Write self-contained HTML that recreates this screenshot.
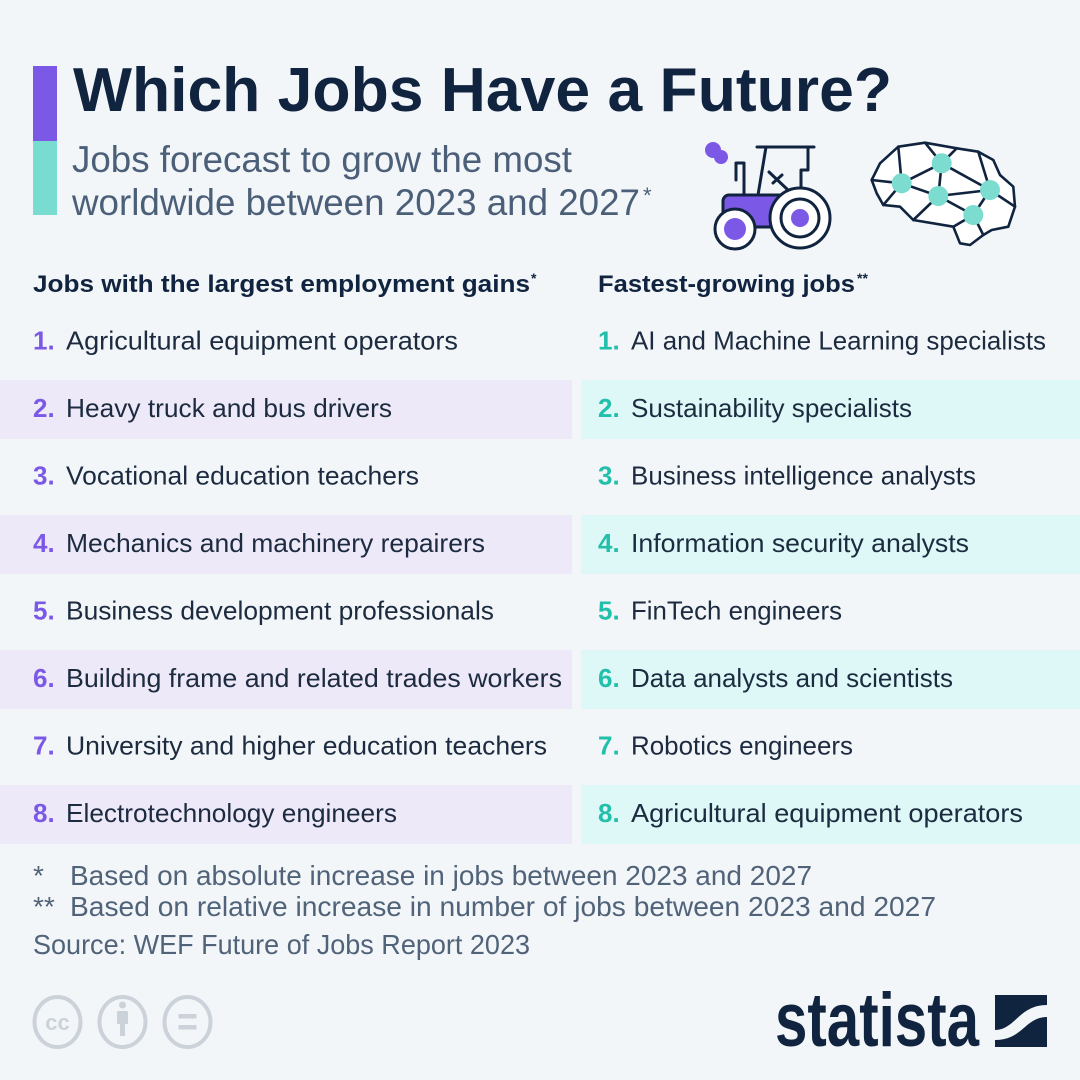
<!DOCTYPE html>
<html>
<head>
<meta charset="utf-8">
<style>
  html, body { margin: 0; padding: 0; background: #f3f6f9; }
  svg { display: block; }
  text { font-family: "Liberation Sans", "DejaVu Sans", sans-serif; }
</style>
</head>
<body>
<svg width="1080" height="1080" viewBox="0 0 1080 1080" xmlns="http://www.w3.org/2000/svg">
  <rect x="0" y="0" width="1080" height="1080" fill="#f3f6f9"/>

  <!-- accent bar -->
  <rect x="33" y="66" width="24" height="75" fill="#7b59e6"/>
  <rect x="33" y="141" width="24" height="74" fill="#79dcd1"/>

  <!-- title -->
  <text x="73" y="111" font-size="62" font-weight="bold" fill="#10233f" textLength="819" lengthAdjust="spacingAndGlyphs">Which Jobs Have a Future?</text>

  <!-- subtitle -->
  <text x="72" y="172" font-size="37" fill="#4b5f78" textLength="500" lengthAdjust="spacingAndGlyphs">Jobs forecast to grow the most</text>
  <text x="72" y="215" font-size="37" fill="#4b5f78" textLength="568" lengthAdjust="spacingAndGlyphs">worldwide between 2023 and 2027</text>
  <text x="643" y="203" font-size="22" fill="#4b5f78">*</text>

  <!-- tractor icon -->
  <g stroke="#10233f" stroke-width="3" stroke-linejoin="round" stroke-linecap="round" fill="none">
    <circle cx="713" cy="150" r="8" fill="#7b59e6" stroke="none"/>
    <circle cx="721" cy="157" r="7" fill="#7b59e6" stroke="none"/>
    <polyline points="736,180 736,163 744,163 744,196"/>
    <line x1="757" y1="147" x2="814" y2="147"/>
    <line x1="766" y1="147" x2="758" y2="195"/>
    <polyline points="808,147 808,170 801,170 801,192"/>
    <line x1="769" y1="172" x2="788" y2="190"/>
    <line x1="773" y1="183" x2="782" y2="175"/>
    <rect x="723" y="195" width="62" height="32" rx="6" fill="#7b59e6"/>
    <circle cx="735" cy="229" r="20" fill="#ffffff"/>
    <circle cx="735" cy="229" r="11" fill="#7b59e6" stroke="none"/>
    <circle cx="800" cy="218" r="30" fill="#ffffff"/>
    <circle cx="800" cy="218" r="19" fill="none"/>
    <circle cx="800" cy="218" r="9" fill="#7b59e6" stroke="none"/>
  </g>

  <!-- brain icon -->
  <g stroke="#10233f" stroke-width="2.6" stroke-linejoin="round" stroke-linecap="round">
    <polygon fill="#ffffff" points="871.7,180 880,163.3 898.3,146.7 925,142.7 956.7,148.3 978.3,151.7 993.3,160 1000,175 1013.3,186.7 1015,206.7 1008.3,226.7 991.7,230 983.3,235 970,245 960,243.3 953.3,226.7 913.3,220 900,206.7 883.3,205 876.7,193.3"/>
    <g fill="none">
      <line x1="901.7" y1="183.3" x2="941.7" y2="163.3"/>
      <line x1="901.7" y1="183.3" x2="938.3" y2="196"/>
      <line x1="941.7" y1="163.3" x2="938.3" y2="196"/>
      <line x1="938.3" y1="196" x2="990" y2="190"/>
      <line x1="941.7" y1="163.3" x2="990" y2="190"/>
      <line x1="938.3" y1="196" x2="973.3" y2="215"/>
      <line x1="990" y1="190" x2="973.3" y2="215"/>
      <line x1="901.7" y1="183.3" x2="871.7" y2="180"/>
      <line x1="901.7" y1="183.3" x2="898.3" y2="146.7"/>
      <line x1="941.7" y1="163.3" x2="925" y2="142.7"/>
      <line x1="941.7" y1="163.3" x2="956.7" y2="148.3"/>
      <line x1="990" y1="190" x2="978.3" y2="151.7"/>
      <line x1="990" y1="190" x2="1015" y2="206.7"/>
      <line x1="973.3" y1="215" x2="983.3" y2="235"/>
      <line x1="973.3" y1="215" x2="953.3" y2="226.7"/>
      <line x1="938.3" y1="196" x2="913.3" y2="220"/>
      <line x1="901.7" y1="183.3" x2="883.3" y2="205"/>
    </g>
    <g fill="#7ddcd0" stroke="none">
      <circle cx="941.7" cy="163.3" r="10"/>
      <circle cx="901.7" cy="183.3" r="10"/>
      <circle cx="938.3" cy="196" r="10"/>
      <circle cx="990" cy="190" r="10"/>
      <circle cx="973.3" cy="215" r="10"/>
    </g>
  </g>

  <!-- column headers -->
  <text x="33" y="292" font-size="24" font-weight="bold" fill="#10233f" textLength="497" lengthAdjust="spacingAndGlyphs">Jobs with the largest employment gains</text>
  <text x="531" y="283" font-size="14" font-weight="bold" fill="#10233f">*</text>
  <text x="598" y="292" font-size="24" font-weight="bold" fill="#10233f" textLength="257" lengthAdjust="spacingAndGlyphs">Fastest-growing jobs</text>
  <text x="857" y="283" font-size="14" font-weight="bold" fill="#10233f">**</text>

  <!-- bands -->
  <g fill="#eee9f9">
    <rect x="0" y="380" width="572" height="59"/>
    <rect x="0" y="515" width="572" height="59"/>
    <rect x="0" y="650" width="572" height="59"/>
    <rect x="0" y="785" width="572" height="59"/>
  </g>
  <g fill="#ddf8f7">
    <rect x="581" y="380" width="499" height="59"/>
    <rect x="581" y="515" width="499" height="59"/>
    <rect x="581" y="650" width="499" height="59"/>
    <rect x="581" y="785" width="499" height="59"/>
  </g>

  <!-- left list -->
  <g font-size="26" font-weight="bold" fill="#7b59e6">
    <text x="33" y="349.5">1.</text>
    <text x="33" y="417">2.</text>
    <text x="33" y="484.5">3.</text>
    <text x="33" y="552">4.</text>
    <text x="33" y="619.5">5.</text>
    <text x="33" y="687">6.</text>
    <text x="33" y="754.5">7.</text>
    <text x="33" y="822">8.</text>
  </g>
  <g font-size="26" fill="#1c2b3f">
    <text x="66" y="349.5" textLength="392" lengthAdjust="spacingAndGlyphs">Agricultural equipment operators</text>
    <text x="66" y="417" textLength="326" lengthAdjust="spacingAndGlyphs">Heavy truck and bus drivers</text>
    <text x="66" y="484.5" textLength="353" lengthAdjust="spacingAndGlyphs">Vocational education teachers</text>
    <text x="66" y="552" textLength="419" lengthAdjust="spacingAndGlyphs">Mechanics and machinery repairers</text>
    <text x="66" y="619.5" textLength="428" lengthAdjust="spacingAndGlyphs">Business development professionals</text>
    <text x="66" y="687" textLength="496" lengthAdjust="spacingAndGlyphs">Building frame and related trades workers</text>
    <text x="66" y="754.5" textLength="481" lengthAdjust="spacingAndGlyphs">University and higher education teachers</text>
    <text x="66" y="822" textLength="331" lengthAdjust="spacingAndGlyphs">Electrotechnology engineers</text>
  </g>

  <!-- right list -->
  <g font-size="26" font-weight="bold" fill="#22bfab">
    <text x="598" y="349.5">1.</text>
    <text x="598" y="417">2.</text>
    <text x="598" y="484.5">3.</text>
    <text x="598" y="552">4.</text>
    <text x="598" y="619.5">5.</text>
    <text x="598" y="687">6.</text>
    <text x="598" y="754.5">7.</text>
    <text x="598" y="822">8.</text>
  </g>
  <g font-size="26" fill="#1c2b3f">
    <text x="631" y="349.5" textLength="415" lengthAdjust="spacingAndGlyphs">AI and Machine Learning specialists</text>
    <text x="631" y="417" textLength="281" lengthAdjust="spacingAndGlyphs">Sustainability specialists</text>
    <text x="631" y="484.5" textLength="345" lengthAdjust="spacingAndGlyphs">Business intelligence analysts</text>
    <text x="631" y="552" textLength="338" lengthAdjust="spacingAndGlyphs">Information security analysts</text>
    <text x="631" y="619.5" textLength="211" lengthAdjust="spacingAndGlyphs">FinTech engineers</text>
    <text x="631" y="687" textLength="322" lengthAdjust="spacingAndGlyphs">Data analysts and scientists</text>
    <text x="631" y="754.5" textLength="222" lengthAdjust="spacingAndGlyphs">Robotics engineers</text>
    <text x="631" y="822" textLength="392" lengthAdjust="spacingAndGlyphs">Agricultural equipment operators</text>
  </g>

  <!-- footnotes -->
  <g font-size="28" fill="#506379">
    <text x="33" y="885">*</text>
    <text x="70" y="885" textLength="742" lengthAdjust="spacingAndGlyphs">Based on absolute increase in jobs between 2023 and 2027</text>
    <text x="33" y="916">**</text>
    <text x="70" y="916" textLength="866" lengthAdjust="spacingAndGlyphs">Based on relative increase in number of jobs between 2023 and 2027</text>
    <text x="33" y="954" textLength="497" lengthAdjust="spacingAndGlyphs">Source: WEF Future of Jobs Report 2023</text>
  </g>

  <!-- CC icons -->
  <g stroke="#ccd2d9" stroke-width="4" fill="none">
    <ellipse cx="57.5" cy="1022" rx="23" ry="25"/>
    <ellipse cx="122.5" cy="1022" rx="23" ry="25"/>
    <ellipse cx="187.5" cy="1022" rx="23" ry="25"/>
  </g>
  <text x="57.5" y="1030" font-size="22" font-weight="bold" fill="#ccd2d9" text-anchor="middle">cc</text>
  <g fill="#ccd2d9">
    <circle cx="122.5" cy="1005" r="3.5"/>
    <rect x="117" y="1011" width="11" height="13" rx="1"/>
    <rect x="120" y="1023" width="5" height="13"/>
    <rect x="178.5" y="1014" width="18" height="4.5"/>
    <rect x="178.5" y="1025" width="18" height="4.5"/>
  </g>

  <!-- statista logo -->
  <text x="775" y="1046" font-size="76" font-weight="bold" fill="#10233f" textLength="204" lengthAdjust="spacingAndGlyphs">statista</text>
  <g transform="translate(995,995)">
    <rect x="0" y="0" width="52" height="52" fill="#10233f"/>
    <path d="M0,35 C20,35 24,10 52,10 L52,22 C30,22 28,45 0,45 Z" fill="#f3f6f9"/>
  </g>
</svg>
</body>
</html>
